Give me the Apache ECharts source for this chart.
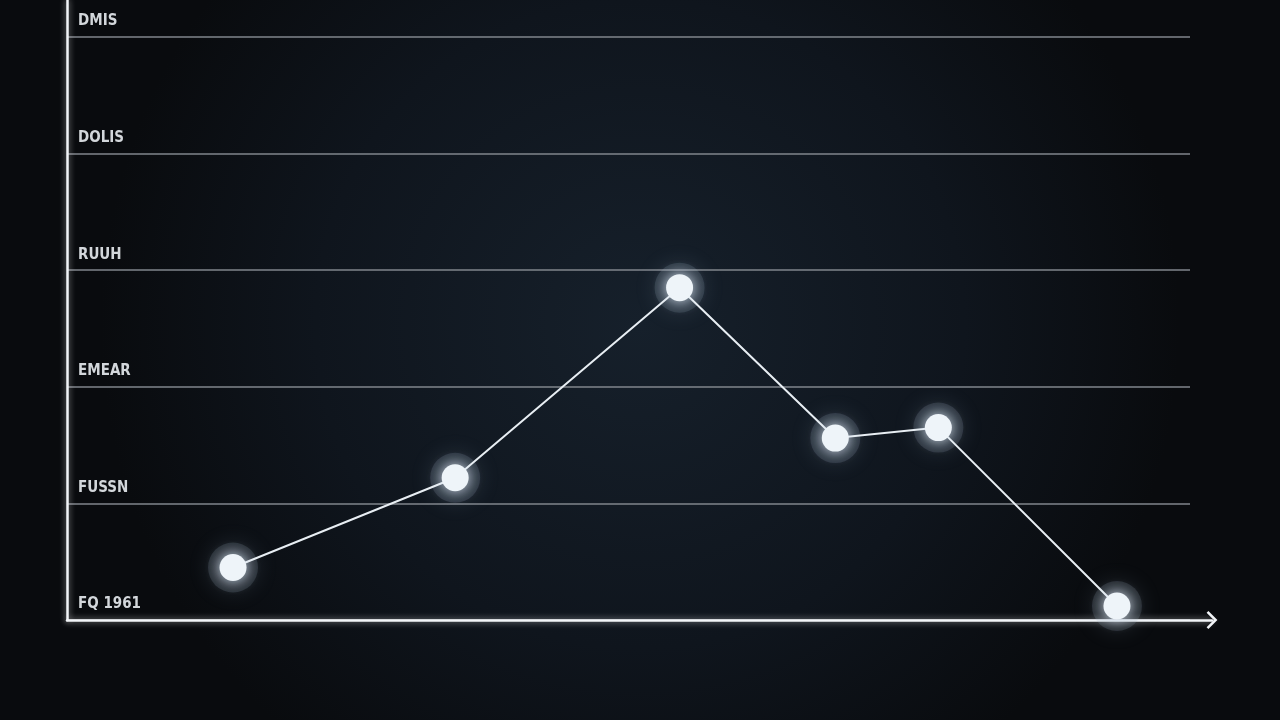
<!DOCTYPE html>
<html>
<head>
<meta charset="utf-8">
<script src="https://cdn.jsdelivr.net/npm/echarts@6/dist/echarts.min.js"></script>
<style>
  html, body { margin: 0; padding: 0; background: #0a0c10; }
  #main { width: 1280px; height: 720px; }
</style>
</head>
<body>
<div id="main"></div>
<script>
var chartDom = document.getElementById('main');
var myChart = echarts.init(chartDom);
var option;

// tick labels, bottom to top
const yLabels = ['FQ 1961', 'FUSSN', 'EMEAR', 'RUUH', 'DOLIS', 'DMIS'];
// point positions along the x axis (0..100) and their values
const xValues = [14.5, 33.9, 53.5, 67.1, 76.1, 91.7];
const yValues = [0.45, 1.22, 2.85, 1.56, 1.65, 0.12];

const points = xValues.map(function (x, i) {
  return [x, yValues[i]];
});

const axisLineStyle = {
  color: '#f2f5f8',
  width: 2.5,
  shadowBlur: 6,
  shadowColor: 'rgba(255,255,255,0.6)'
};

option = {
  backgroundColor: {
    type: 'radial',
    x: 0.5,
    y: 0.45,
    r: 0.75,
    colorStops: [
      { offset: 0, color: '#16202b' },
      { offset: 0.6, color: '#0f151d' },
      { offset: 1, color: '#090b0e' }
    ]
  },
  grid: [
    // data grid, axis line runs past the grid lines
    { left: 67, right: 68, top: 0, bottom: 100 },
    // grid lines and labels
    { left: 67, right: 90, top: 37, bottom: 100 }
  ],
  xAxis: [
    {
      type: 'value',
      gridIndex: 0,
      min: 0,
      max: 100,
      axisLine: {
        show: true,
        symbol: ['none', 'path://M0,9 L9,0 L18,9 L16.2,10.8 L9,3.6 L1.8,10.8 Z'],
        symbolSize: [18, 11],
        lineStyle: axisLineStyle
      },
      axisTick: { show: false },
      axisLabel: { show: false },
      splitLine: { show: false }
    },
    {
      type: 'value',
      gridIndex: 1,
      show: false
    }
  ],
  yAxis: [
    {
      type: 'value',
      gridIndex: 0,
      min: 0,
      max: 5.317,
      axisLine: { show: true, lineStyle: axisLineStyle },
      axisTick: { show: false },
      axisLabel: { show: false },
      splitLine: { show: false }
    },
    {
      type: 'category',
      gridIndex: 1,
      data: yLabels,
      boundaryGap: false,
      axisLine: { show: false },
      axisTick: { show: false },
      axisLabel: {
        inside: true,
        margin: 11,
        verticalAlign: 'bottom',
        padding: [0, 0, 8, 0],
        color: '#d3d7db',
        fontSize: 15,
        fontWeight: 'bold',
        fontFamily: "'DejaVu Sans Condensed', sans-serif",
        showMinLabel: true,
        showMaxLabel: true,
        interval: 0
      },
      splitLine: {
        show: true,
        lineStyle: { color: '#80868d', width: 1.5 }
      }
    }
  ],
  series: [
    {
      // soft halo round each point
      type: 'scatter',
      xAxisIndex: 0,
      yAxisIndex: 0,
      data: points,
      symbolSize: 50,
      silent: true,
      itemStyle: {
        color: 'rgba(160,180,200,0.2)',
        shadowBlur: 22,
        shadowColor: 'rgba(170,190,215,0.8)'
      },
      z: 3
    },
    {
      type: 'line',
      xAxisIndex: 0,
      yAxisIndex: 0,
      data: points,
      symbol: 'circle',
      symbolSize: 27,
      lineStyle: {
        color: '#e8eef3',
        width: 2
      },
      itemStyle: {
        color: '#eef4f9',
        borderWidth: 0,
        shadowBlur: 14,
        shadowColor: 'rgba(220,232,245,0.95)'
      },
      z: 5
    }
  ],
  animation: false
};

option && myChart.setOption(option);
</script>
</body>
</html>
